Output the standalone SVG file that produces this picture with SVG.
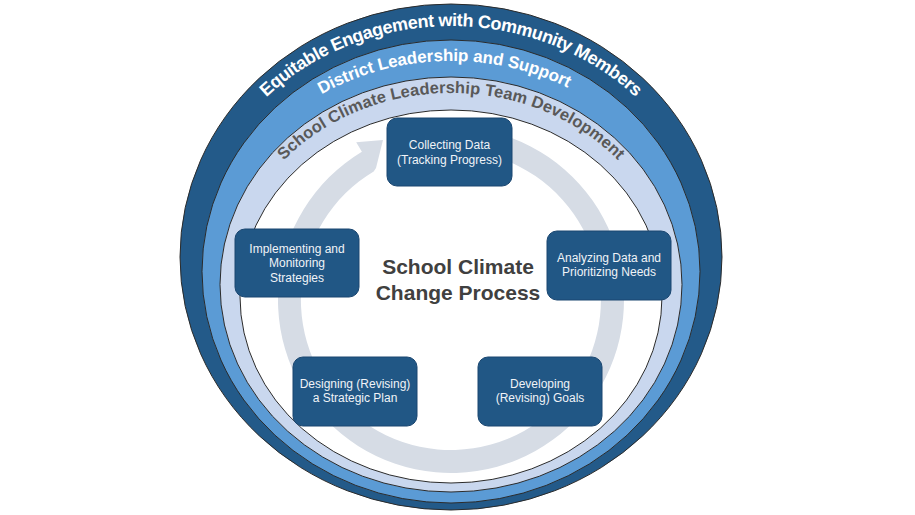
<svg xmlns="http://www.w3.org/2000/svg" width="915" height="515" viewBox="0 0 915 515">
<style>
.ring{stroke:#2b2b2b;stroke-width:1}
.box{fill:#215785;stroke:#1a4670;stroke-width:1}
.bt{font-family:"Liberation Sans",Arial,sans-serif;font-size:12px;fill:#f0f3f7;text-anchor:middle}
.arc{font-family:"Liberation Sans",Arial,sans-serif;font-weight:bold}
.ctr{font-family:"Liberation Sans",Arial,sans-serif;font-weight:bold;font-size:21px;fill:#404040;text-anchor:middle}
</style>
<defs>
<path id="p1" d="M 193,262 A 258 236 0 0 1 709,262"/>
<path id="p2" d="M 211,272 A 240 211 0 0 1 691,272"/>
<path id="p3" d="M 229,290 A 222 197 0 0 1 673,290"/>
</defs>
<rect width="915" height="515" fill="#ffffff"/>
<g id="rings">
<ellipse class="ring" cx="451" cy="257" rx="271" ry="253" fill="#235a89"/>
<ellipse class="ring" cx="451" cy="271.5" rx="249" ry="231.5" fill="#5b9bd5"/>
<ellipse class="ring" cx="451" cy="284.5" rx="231" ry="207.5" fill="#c9d7ee"/>
<ellipse class="ring" cx="451" cy="296.5" rx="211" ry="186.5" fill="#ffffff"/>
<text class="arc" font-size="18" fill="#ffffff"><textPath href="#p1" startOffset="50%" text-anchor="middle" textLength="405" lengthAdjust="spacing">Equitable Engagement with Community Members</textPath></text>
<text class="arc" font-size="17" fill="#ffffff"><textPath href="#p2" startOffset="49%" text-anchor="middle" textLength="256" lengthAdjust="spacing">District Leadership and Support</textPath></text>
<text class="arc" font-size="16.5" fill="#595959"><textPath href="#p3" startOffset="50%" text-anchor="middle" textLength="370" lengthAdjust="spacing">School Climate Leadership Team Development</textPath></text>
</g>
<g id="connectors">
<path d="M 451,127 A 173 173 0 1 1 361.9,151.7 L 356.2,142.3 L 383,140 L 376,168 L 373.7,171.4 A 150 150 0 1 0 451,150 Z" fill="#d6dce5"/>
</g>
<g id="center-title">
<text class="ctr" x="458" y="274">School Climate</text>
<text class="ctr" x="458" y="300">Change Process</text>
</g>
<g id="collecting">
<rect class="box" x="387" y="118" width="125" height="68" rx="10"/>
<text class="bt" x="449.5" y="149">Collecting Data</text>
<text class="bt" x="449.5" y="163.5">(Tracking Progress)</text>
</g>
<g id="analyzing">
<rect class="box" x="547" y="231" width="124" height="69" rx="10"/>
<text class="bt" x="609" y="261.5">Analyzing Data and</text>
<text class="bt" x="609" y="275.5">Prioritizing Needs</text>
</g>
<g id="developing">
<rect class="box" x="478" y="357" width="124" height="69" rx="10"/>
<text class="bt" x="540" y="387.5">Developing</text>
<text class="bt" x="540" y="402">(Revising) Goals</text>
</g>
<g id="designing">
<rect class="box" x="293" y="357" width="124" height="69" rx="10"/>
<text class="bt" x="355" y="387.5">Designing (Revising)</text>
<text class="bt" x="355" y="402">a Strategic Plan</text>
</g>
<g id="implementing">
<rect class="box" x="235" y="229" width="124" height="68" rx="10"/>
<text class="bt" x="297" y="252.5">Implementing and</text>
<text class="bt" x="297" y="267">Monitoring</text>
<text class="bt" x="297" y="281.5">Strategies</text>
</g>
</svg>
